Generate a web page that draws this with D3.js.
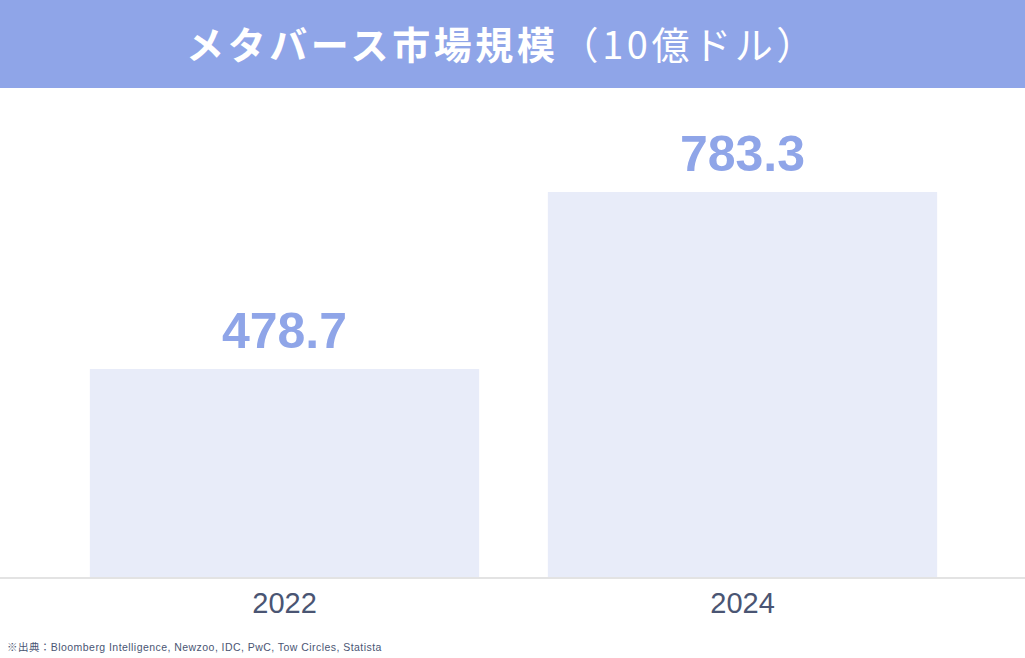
<!DOCTYPE html>
<html>
<head>
<meta charset="utf-8">
<script src="https://cdn.jsdelivr.net/npm/d3@7"></script>
<style>
  html, body { margin: 0; padding: 0; background: #fff; }
  svg { display: block; }
</style>
</head>
<body>
<div id="chart"></div>
<script>
const years = ["2022", "2024"];
const values = [478.7, 783.3];
const titleMain = "メタバース市場規模";
const titleUnit = "（10億ドル）";
const source = "※出典：Bloomberg Intelligence, Newzoo, IDC, PwC, Tow Circles, Statista";

const width = 1025;
const height = 658;
const baseY = 577;
const accent = "#8fa5e8";

const data = years.map((y, i) => ({ key: y, value: values[i] }));

const svg = d3.select("#chart")
  .append("svg")
  .attr("width", width)
  .attr("height", height);

// header band
svg.append("rect")
  .attr("x", 0).attr("y", 0)
  .attr("width", width).attr("height", 88)
  .attr("fill", accent);

const title = svg.append("text")
  .attr("x", 502)
  .attr("y", 59)
  .attr("text-anchor", "middle")
  .attr("fill", "#fff")
  .attr("font-family", "'Noto Sans CJK JP', sans-serif")
  .attr("font-size", 38)
  .attr("letter-spacing", 3.6);
title.append("tspan").attr("font-weight", 700).text(titleMain);
title.append("tspan").attr("font-weight", 400).attr("dx", 2).text(titleUnit);

const xScale = d3.scaleBand()
  .domain(years)
  .range([1, width + 1])
  .paddingInner(0.15)
  .paddingOuter(0.194);

const yScale = d3.scaleLinear()
  .domain([120.8, 850])
  .range([baseY, baseY - 0.5811 * (850 - 120.8)]);

svg.selectAll("rect.bar")
  .data(data)
  .enter()
  .append("rect")
  .attr("class", "bar")
  .attr("x", d => xScale(d.key))
  .attr("y", d => yScale(d.value))
  .attr("width", xScale.bandwidth())
  .attr("height", d => baseY - yScale(d.value))
  .attr("fill", "#e8ecf9");

svg.selectAll("text.val")
  .data(data)
  .enter()
  .append("text")
  .attr("class", "val")
  .attr("x", d => xScale(d.key) + xScale.bandwidth() / 2)
  .attr("y", d => yScale(d.value) - 21)
  .attr("text-anchor", "middle")
  .attr("fill", accent)
  .attr("font-family", "'Liberation Sans', Arial, sans-serif")
  .attr("font-weight", 700)
  .attr("font-size", 50)
  .text(d => d.value.toFixed(1));

const xAxis = d3.axisBottom(xScale).tickSize(0).tickPadding(15);
const gx = svg.append("g")
  .attr("id", "x-axis")
  .attr("transform", `translate(0, ${baseY})`)
  .call(xAxis);
gx.select(".domain")
  .attr("d", `M0,0H${width}`)
  .attr("stroke", "#e3e3e3")
  .attr("stroke-width", 2)
  .attr("transform", "translate(0,1)");
gx.selectAll("text")
  .attr("fill", "#4a5573")
  .attr("font-family", "'Liberation Sans', Arial, sans-serif")
  .attr("font-size", 29);

svg.append("text")
  .attr("x", 7)
  .attr("y", 651)
  .attr("fill", "#4a5573")
  .attr("font-family", "'Liberation Sans', 'Noto Sans CJK JP', sans-serif")
  .attr("font-size", 10.5)
  .attr("letter-spacing", 0.45)
  .text(source);
</script>
</body>
</html>
